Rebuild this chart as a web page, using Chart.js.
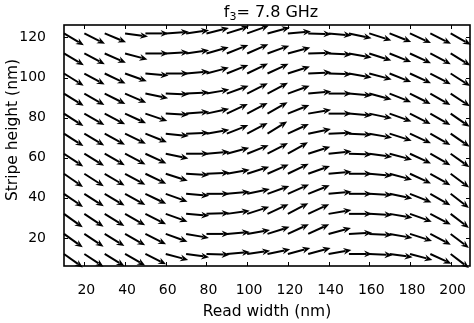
<!DOCTYPE html>
<html>
<head>
<meta charset="utf-8">
<script src="https://cdn.jsdelivr.net/npm/chart.js@4/dist/chart.umd.min.js"></script>
<style>
  html, body { margin: 0; padding: 0; background: #fff; }
  #wrap { width: 474px; height: 323px; }
</style>
</head>
<body>
<div id="wrap"><canvas id="c" width="474" height="323"></canvas></div>
<script>
// Grid of the magnetization map (nm)
const readWidths = [10, 20, 30, 40, 50, 60, 70, 80, 90, 100, 110, 120, 130, 140, 150, 160, 170, 180, 190, 200];
const stripeHeights = [122, 112, 102, 92, 82, 72, 62, 52, 42, 32, 22, 12];

// In-plane direction of each arrow (degrees from +x), one row per stripe height, left to right
const angles122 = [-31, -27, -23, -8, 0, 4, 8, 14, 18, 20, 15, 5, -2, -5, -12, -18, -22, -25, -27, -30];
const angles112 = [-31, -28, -24, -15, 0, 3, 8, 16, 22, 24, 20, 15, 2, -3, -10, -18, -22, -25, -28, -32];
const angles102 = [-32, -29, -26, -20, -5, 0, 5, 15, 22, 26, 25, 18, 3, -2, -10, -15, -22, -25, -28, -33];
const angles92  = [-32, -30, -27, -24, -12, -2, 3, 10, 20, 27, 28, 20, 5, 0, -5, -15, -22, -27, -30, -34];
const angles82  = [-33, -30, -28, -25, -19, -3, 5, 12, 25, 28, 30, 22, 10, 0, -5, -12, -20, -27, -30, -35];
const angles72  = [-33, -31, -29, -26, -22, -6, 2, 10, 22, 28, 32, 25, 12, 2, -3, -10, -18, -25, -30, -35];
const angles62  = [-34, -32, -30, -28, -25, -12, 0, 5, 15, 22, 28, 30, 18, 6, -2, -8, -15, -25, -30, -36];
const angles52  = [-35, -33, -31, -29, -26, -18, -3, 3, 10, 18, 24, 26, 20, 5, 0, -5, -15, -25, -30, -37];
const angles42  = [-35, -33, -31, -29, -26, -20, -5, 0, 5, 12, 20, 24, 22, 5, 0, -3, -12, -22, -30, -38];
const angles32  = [-36, -34, -32, -30, -27, -20, -5, 2, 8, 18, 25, 28, 25, 10, 0, -3, -10, -20, -28, -38];
const angles22  = [-36, -34, -32, -30, -27, -20, -10, 0, 5, 10, 18, 25, 25, 15, 3, -3, -10, -18, -28, -38];
const angles12  = [-36, -34, -32, -30, -27, -15, -8, -2, 5, 8, 12, 15, 15, 10, 0, -3, -8, -15, -25, -38];
const angleRows = [angles122, angles112, angles102, angles92, angles82, angles72,
                   angles62, angles52, angles42, angles32, angles22, angles12];

// Arrow length in nm (uniform, normalized vectors)
const arrowLength = 11.4;

const xTickValues = [20, 40, 60, 80, 100, 120, 140, 160, 180, 200];
const yTickValues = [20, 40, 60, 80, 100, 120];

const FONT = "'DejaVu Sans', Verdana, sans-serif";

// Arrow tails with their vector components in data units
const arrows = [];
stripeHeights.forEach((h, r) => {
  readWidths.forEach((w, c) => {
    const a = angleRows[r][c] * Math.PI / 180;
    arrows.push({ x: w, y: h, u: arrowLength * Math.cos(a), v: arrowLength * Math.sin(a) });
  });
});

const quiver = {
  id: 'quiver',
  afterDatasetsDraw(chart) {
    const { ctx } = chart;
    const xs = chart.scales.x, ys = chart.scales.y;
    ctx.save();
    ctx.strokeStyle = '#000';
    ctx.fillStyle = '#000';
    ctx.lineWidth = 2;
    ctx.lineCap = 'butt';
    ctx.lineJoin = 'miter';
    for (const p of chart.data.datasets[0].data) {
      const x0 = xs.getPixelForValue(p.x), y0 = ys.getPixelForValue(p.y);
      const x1 = xs.getPixelForValue(p.x + p.u), y1 = ys.getPixelForValue(p.y + p.v);
      const a = Math.atan2(y1 - y0, x1 - x0);
      const headLen = 8, half = 3.4;
      const bx = x1 - headLen * Math.cos(a), by = y1 - headLen * Math.sin(a);
      ctx.beginPath();
      ctx.moveTo(x0, y0);
      ctx.lineTo(bx + 2 * Math.cos(a), by + 2 * Math.sin(a));
      ctx.stroke();
      ctx.beginPath();
      ctx.moveTo(x1, y1);
      ctx.lineTo(bx - half * Math.sin(a), by + half * Math.cos(a));
      ctx.lineTo(bx + 2.5 * Math.cos(a), by + 2.5 * Math.sin(a));
      ctx.lineTo(bx + half * Math.sin(a), by - half * Math.cos(a));
      ctx.closePath();
      ctx.fill();
    }
    ctx.restore();
  }
};

// Box frame with inward ticks on all four sides, the frequency title and the y-axis title
const frame = {
  id: 'frame',
  afterDraw(chart) {
    const { ctx, chartArea: ca } = chart;
    const xs = chart.scales.x, ys = chart.scales.y;
    ctx.save();
    ctx.strokeStyle = '#000';
    ctx.lineWidth = 1;
    const t = 4;
    ctx.beginPath();
    for (const v of xTickValues) {
      const px = Math.round(xs.getPixelForValue(v)) + 0.5;
      ctx.moveTo(px, ca.bottom); ctx.lineTo(px, ca.bottom - t);
      ctx.moveTo(px, ca.top); ctx.lineTo(px, ca.top + t);
    }
    for (const v of yTickValues) {
      const py = Math.round(ys.getPixelForValue(v)) + 0.5;
      ctx.moveTo(ca.left, py); ctx.lineTo(ca.left + t, py);
      ctx.moveTo(ca.right, py); ctx.lineTo(ca.right - t, py);
    }
    ctx.stroke();
    ctx.lineWidth = 1.6;
    ctx.strokeRect(ca.left, ca.top, ca.right - ca.left, ca.bottom - ca.top);

    // Title: f with subscript 3
    const main = '16px ' + FONT, sub = '11px ' + FONT;
    ctx.fillStyle = '#000';
    ctx.textBaseline = 'alphabetic';
    ctx.font = main;
    const wF = ctx.measureText('f').width;
    const wRest = ctx.measureText('= 7.8 GHz').width;
    ctx.font = sub;
    const wSub = ctx.measureText('3').width;
    const total = wF + wSub + wRest;
    let x = (ca.left + ca.right) / 2 + 4 - total / 2;
    const base = 17;
    ctx.font = main; ctx.fillText('f', x, base); x += wF;
    ctx.font = sub; ctx.fillText('3', x, base + 3); x += wSub;
    ctx.font = main; ctx.fillText('= 7.8 GHz', x, base);

    // Y-axis title, rotated
    ctx.translate(13, 130);
    ctx.rotate(-Math.PI / 2);
    ctx.font = '15.5px ' + FONT;
    ctx.textAlign = 'center';
    ctx.textBaseline = 'middle';
    ctx.fillText('Stripe height (nm)', 0, 0);
    ctx.restore();
  }
};

new Chart(document.getElementById('c'), {
  type: 'scatter',
  data: {
    datasets: [{ data: arrows, pointRadius: 0, pointHoverRadius: 0, showLine: false }]
  },
  options: {
    responsive: false,
    animation: false,
    devicePixelRatio: 1,
    events: [],
    layout: { padding: { top: 25, right: 4, left: 0, bottom: 0 } },
    plugins: { legend: { display: false }, tooltip: { enabled: false }, title: { display: false } },
    scales: {
      x: {
        type: 'linear', min: 10, max: 209.5,
        afterFit: (s) => { s.height = 57; },
        afterBuildTicks: (s) => { s.ticks = xTickValues.map(v => ({ value: v })); },
        grid: { display: false },
        border: { display: false },
        ticks: { color: '#000', font: { family: FONT, size: 14 }, padding: 8, labelOffset: 2, maxRotation: 0, autoSkip: false },
        title: { display: true, text: 'Read width (nm)', color: '#000', font: { family: FONT, size: 15.5 }, padding: { top: 0, bottom: 2 } }
      },
      y: {
        type: 'linear', min: 6, max: 126.2,
        afterFit: (s) => { s.width = 64; },
        afterBuildTicks: (s) => { s.ticks = yTickValues.map(v => ({ value: v })); },
        grid: { display: false },
        border: { display: false },
        ticks: { color: '#000', font: { family: FONT, size: 14 }, padding: 10, autoSkip: false },
        title: { display: false }
      }
    }
  },
  plugins: [quiver, frame]
});
</script>
</body>
</html>
